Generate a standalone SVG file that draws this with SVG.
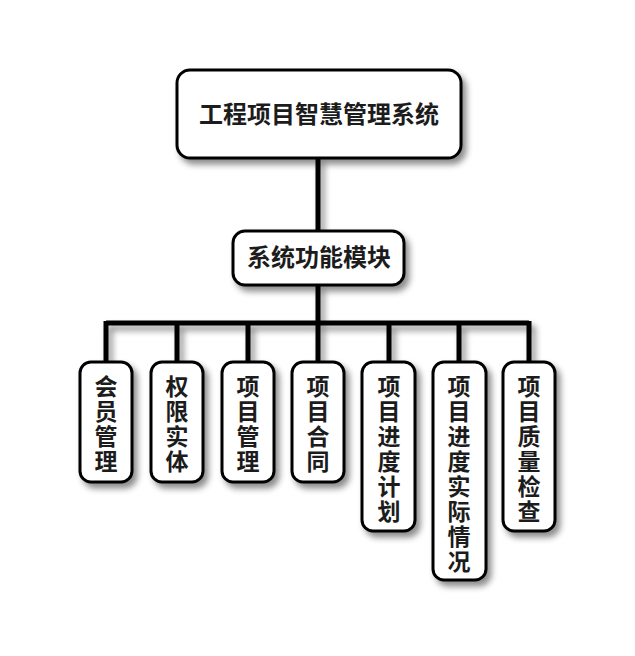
<svg xmlns="http://www.w3.org/2000/svg" width="635" height="656" viewBox="0 0 635 656">
<defs>
<filter id="sh" x="-30%" y="-30%" width="160%" height="160%">
<feDropShadow dx="4" dy="5" stdDeviation="3" flood-color="#000" flood-opacity="0.45"/>
</filter>
<style>
.box{fill:#fff;stroke:#000;stroke-width:3;filter:url(#sh)}
.t{font-family:"Noto Sans CJK SC","Noto Sans",sans-serif;font-weight:bold;fill:#1c1c1c;text-anchor:middle}
.ln{stroke:#000;stroke-width:5;fill:none}
</style>
</defs>
<rect width="635" height="656" fill="#fff"/>
<g id="connectors" filter="url(#sh)">
<path class="ln" d="M318 158V231M318 285V323M106 323H529M106 321V362M177 321V362M248 321V362M318 321V362M389 321V362M459 321V362M529 321V362"/>
</g>
<g id="root">
<rect class="box" x="177" y="70" width="284" height="88" rx="13"/>
<text class="t" x="319" y="123" font-size="24">工程项目智慧管理系统</text>
</g>
<g id="module">
<rect class="box" x="233" y="231" width="171" height="54" rx="12"/>
<text class="t" x="319" y="266" font-size="24">系统功能模块</text>
</g>
<g id="n1">
<rect class="box" x="80" y="362" width="52" height="120" rx="11"/>
<text class="t" x="106" font-size="23"><tspan x="106" y="395">会</tspan><tspan x="106" y="420">员</tspan><tspan x="106" y="445">管</tspan><tspan x="106" y="470">理</tspan></text>
</g>
<g id="n2">
<rect class="box" x="151" y="362" width="52" height="120" rx="11"/>
<text class="t" font-size="23"><tspan x="177" y="395">权</tspan><tspan x="177" y="420">限</tspan><tspan x="177" y="445">实</tspan><tspan x="177" y="470">体</tspan></text>
</g>
<g id="n3">
<rect class="box" x="222" y="362" width="52" height="120" rx="11"/>
<text class="t" font-size="23"><tspan x="248" y="395">项</tspan><tspan x="248" y="420">目</tspan><tspan x="248" y="445">管</tspan><tspan x="248" y="470">理</tspan></text>
</g>
<g id="n4">
<rect class="box" x="292" y="362" width="52" height="120" rx="11"/>
<text class="t" font-size="23"><tspan x="318" y="395">项</tspan><tspan x="318" y="420">目</tspan><tspan x="318" y="445">合</tspan><tspan x="318" y="470">同</tspan></text>
</g>
<g id="n5">
<rect class="box" x="362" y="362" width="53" height="169" rx="11"/>
<text class="t" font-size="23"><tspan x="389" y="395">项</tspan><tspan x="389" y="420">目</tspan><tspan x="389" y="445">进</tspan><tspan x="389" y="470">度</tspan><tspan x="389" y="495">计</tspan><tspan x="389" y="520">划</tspan></text>
</g>
<g id="n6">
<rect class="box" x="433" y="362" width="53" height="218" rx="11"/>
<text class="t" font-size="23"><tspan x="459" y="395">项</tspan><tspan x="459" y="420">目</tspan><tspan x="459" y="445">进</tspan><tspan x="459" y="470">度</tspan><tspan x="459" y="495">实</tspan><tspan x="459" y="520">际</tspan><tspan x="459" y="545">情</tspan><tspan x="459" y="570">况</tspan></text>
</g>
<g id="n7">
<rect class="box" x="503" y="362" width="52" height="169" rx="11"/>
<text class="t" font-size="23"><tspan x="529" y="395">项</tspan><tspan x="529" y="420">目</tspan><tspan x="529" y="445">质</tspan><tspan x="529" y="470">量</tspan><tspan x="529" y="495">检</tspan><tspan x="529" y="520">查</tspan></text>
</g>
</svg>
